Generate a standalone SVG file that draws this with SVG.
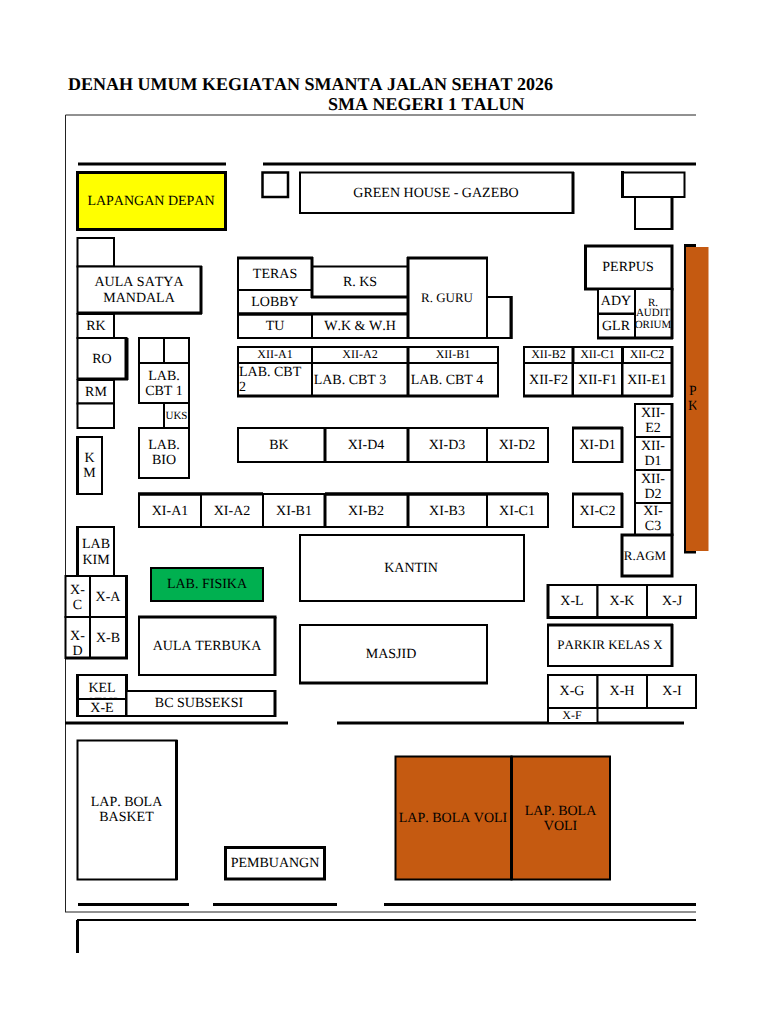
<svg xmlns="http://www.w3.org/2000/svg" width="768" height="1024" viewBox="0 0 768 1024">
<style>
rect{fill:#fff;stroke:#000;stroke-width:2}
rect.k{stroke-width:3}
rect.o{fill:#C55A11}
line{stroke:#000;stroke-width:3}
line.n{stroke-width:1;stroke:#222}
text{font-family:"Liberation Serif","Times New Roman",serif;font-size:14px;fill:#000;text-anchor:middle;text-rendering:geometricPrecision;font-kerning:none}
text.s{font-size:12px}
text.m{font-size:13px}
text.xs{font-size:11px}
text.l{text-anchor:start}
text.h{font-size:18px;font-weight:bold;text-anchor:start}
</style>
<defs><clipPath id="c"><rect x="0" y="0" width="696.5" height="1024"/></clipPath></defs>
<rect width="768" height="1024" style="fill:#fff;stroke:none"/>
<g id="title"><text class="h" x="68" y="90">DENAH UMUM KEGIATAN SMANTA JALAN SEHAT 2026</text><text class="h" x="328" y="110">SMA NEGERI 1 TALUN</text></g>
<g id="connectors">
<line class="n" x1="65.5" y1="115" x2="696" y2="115"/><line class="n" x1="65.5" y1="115" x2="65.5" y2="912"/><line class="n" x1="65" y1="912" x2="696" y2="912"/>
<line x1="78" y1="164" x2="226" y2="164"/><line x1="263" y1="164" x2="696" y2="164"/>
<line x1="65" y1="723" x2="288" y2="723"/><line x1="337" y1="723" x2="684" y2="723"/>
<line x1="78" y1="904.500" x2="189" y2="904.500"/><line x1="213" y1="904.500" x2="337" y2="904.500"/><line x1="384" y1="904.500" x2="696" y2="904.500"/>
<line style="stroke-width:2" x1="77" y1="920" x2="696" y2="920"/><line x1="77.500" y1="920" x2="77.500" y2="953"/>
</g>
<g id="lapangan-depan"><rect class="k" style="fill:#ff0" x="77.500" y="172.500" width="148" height="57"/><text x="151" y="205">LAPANGAN DEPAN</text></g>
<g id="kotak-1"><rect style="stroke-width:2.500" x="262.500" y="172.500" width="25.500" height="24.500"/></g>
<g id="green-house"><rect x="300" y="172.500" width="273" height="40.500"/><line x1="573" y1="172" x2="573" y2="214"/><text x="436" y="197">GREEN HOUSE - GAZEBO</text></g>
<g id="kotak-2"><rect x="622.500" y="172.500" width="62" height="24.500"/><rect x="635" y="197" width="37" height="32"/><line x1="622.500" y1="171" x2="622.500" y2="198"/><line x1="672" y1="197" x2="672" y2="230"/></g>
<g id="kotak-3"><rect x="77.500" y="238" width="36.500" height="28.500"/></g>
<g id="aula-satya"><rect x="77.500" y="266.500" width="123.500" height="47"/><line x1="77" y1="313" x2="202" y2="313"/><line x1="201" y1="266" x2="201" y2="314"/><text x="139" y="286">AULA SATYA</text><text x="139" y="302">MANDALA</text></g>
<g id="rk"><rect x="77.500" y="314" width="36.500" height="24"/><text x="96" y="330">RK</text></g>
<g id="ro"><rect x="77.500" y="338" width="49" height="41"/><line style="stroke-width:4" x1="126.500" y1="338" x2="126.500" y2="380"/><line x1="77" y1="379" x2="128" y2="379"/><text x="102" y="363">RO</text></g>
<g id="rm"><rect x="77.500" y="380" width="36.500" height="23.500"/><text x="96" y="396">RM</text></g>
<g id="kotak-4"><rect x="77.500" y="403.500" width="36.500" height="24.500"/></g>
<g id="km"><rect x="77.500" y="437" width="24.500" height="57"/><line x1="77.500" y1="436" x2="77.500" y2="495"/><text x="89.500" y="462">K</text><text x="89.500" y="477">M</text></g>
<g id="lab-kim"><rect x="77.500" y="527" width="36.500" height="49"/><line x1="77.500" y1="526" x2="77.500" y2="576"/><text x="96" y="548">LAB</text><text x="96" y="564">KIM</text></g>
<g id="x-c"><rect x="65.500" y="576" width="24.500" height="41"/><text x="77.500" y="594">X-</text><text x="77.500" y="609">C</text></g>
<g id="x-a"><rect x="90" y="576" width="37" height="41"/><line x1="126.500" y1="575" x2="126.500" y2="618"/><text x="108" y="601">X-A</text></g>
<g id="x-d"><rect x="65.500" y="617" width="24.500" height="41"/><text x="77.500" y="640">X-</text><text x="77.500" y="655">D</text></g>
<g id="x-b"><rect x="90" y="617" width="37" height="41"/><line x1="126.500" y1="617" x2="126.500" y2="659"/><line x1="65" y1="658" x2="128" y2="658"/><text x="108" y="642">X-B</text></g>
<g id="kel-seni"><rect x="77.500" y="675" width="49" height="24"/><text x="102" y="692">KEL</text><text x="102" y="707">SENI</text></g>
<g id="x-e"><rect x="77.500" y="699" width="49" height="17"/><line x1="77.500" y1="674" x2="77.500" y2="717"/><line x1="126.500" y1="674" x2="126.500" y2="717"/><text x="102" y="712">X-E</text></g>
<g id="bc-subseksi"><rect x="126.500" y="691" width="148.500" height="25"/><line x1="275" y1="690" x2="275" y2="717"/><text x="199" y="707">BC SUBSEKSI</text></g>
<g id="kotak-5"><rect x="139" y="338" width="25" height="25"/><rect x="164" y="338" width="25" height="25"/></g>
<g id="lab-cbt-1"><rect x="139" y="363" width="50" height="40"/><text x="164" y="380">LAB.</text><text x="164" y="395">CBT 1</text></g>
<g id="uks"><rect x="164" y="403" width="25" height="25"/><text class="xs" x="176.500" y="419">UKS</text></g>
<g id="lab-bio"><rect x="139" y="428" width="50" height="50"/><text x="164" y="449">LAB.</text><text x="164" y="464">BIO</text></g>
<g id="lobby"><rect x="238" y="290" width="170" height="24"/><text x="275" y="306">LOBBY</text></g>
<g id="r-ks"><rect x="312" y="266.500" width="96" height="30.500"/><line x1="311" y1="297" x2="409" y2="297"/><text x="360" y="286">R. KS</text></g>
<g id="teras"><rect x="238" y="258" width="74" height="32"/><line x1="312" y1="257" x2="312" y2="298"/><line x1="237" y1="258" x2="313" y2="258"/><text x="275" y="278">TERAS</text></g>
<g id="tu"><rect x="238" y="314" width="74" height="24"/><line x1="237" y1="314" x2="409" y2="314"/><text x="275" y="330">TU</text></g>
<g id="wk"><rect x="312" y="314" width="96" height="24"/><line x1="237" y1="314" x2="409" y2="314"/><text x="360" y="330">W.K &amp; W.H</text></g>
<g id="kotak-6"><rect x="487" y="297" width="24.500" height="41"/><line x1="511" y1="296" x2="511" y2="339"/></g>
<g id="r-guru"><rect x="408" y="258" width="79" height="80"/><line x1="408" y1="257" x2="408" y2="339"/><line x1="407" y1="258" x2="488" y2="258"/><text class="m" x="447" y="302">R. GURU</text></g>
<g id="xii-a1"><rect x="238" y="347" width="74" height="16"/><text class="s" x="275" y="358">XII-A1</text></g>
<g id="xii-a2"><rect x="312" y="347" width="96" height="16"/><text class="s" x="360" y="358">XII-A2</text></g>
<g id="xii-b1"><rect x="408" y="347" width="90" height="16"/><text class="s" x="453" y="358">XII-B1</text></g>
<g id="cbt-2"><rect x="238" y="363" width="74" height="33"/><text class="l" x="239" y="376">LAB. CBT</text><text class="l" x="239" y="391">2</text></g>
<g id="cbt-3"><rect x="312" y="363" width="96" height="33"/><text x="350" y="384">LAB. CBT 3</text></g>
<g id="cbt-4"><rect x="408" y="363" width="90" height="33"/><line x1="408" y1="346" x2="408" y2="397"/><line x1="237" y1="396" x2="499" y2="396"/><text x="447" y="384">LAB. CBT 4</text></g>
<g id="xii-b2"><rect x="524" y="347" width="49" height="16"/><text class="s" x="548.500" y="358">XII-B2</text></g>
<g id="xii-c1"><rect x="573" y="347" width="49.500" height="16"/><text class="s" x="597.500" y="358">XII-C1</text></g>
<g id="xii-c2"><rect x="622.500" y="347" width="49.500" height="16"/><text class="s" x="647" y="358">XII-C2</text></g>
<g id="xii-f2"><rect x="524" y="363" width="49" height="33"/><line x1="573" y1="346" x2="573" y2="397"/><text x="548.500" y="384">XII-F2</text></g>
<g id="xii-f1"><rect x="573" y="363" width="49.500" height="33"/><line x1="622.500" y1="346" x2="622.500" y2="397"/><text x="597.500" y="384">XII-F1</text></g>
<g id="xii-e1"><rect x="622.500" y="363" width="49.500" height="33"/><line x1="672" y1="346" x2="672" y2="397"/><line x1="523" y1="396" x2="673" y2="396"/><text x="647" y="384">XII-E1</text></g>
<g id="perpus"><rect class="k" x="585.500" y="246" width="86.500" height="43"/><text x="628" y="271">PERPUS</text></g>
<g id="ady"><rect x="598" y="289" width="37" height="25"/><line x1="597" y1="314" x2="636" y2="314"/><text x="616" y="305">ADY</text></g>
<g id="glr"><rect x="598" y="314" width="37" height="24"/><text x="616" y="330">GLR</text></g>
<g id="r-auditorium"><rect x="635" y="289" width="37" height="49"/><line x1="672" y1="288" x2="672" y2="339"/><line x1="597" y1="338" x2="673" y2="338"/><text class="xs" x="653" y="306">R.</text><text class="xs" x="653" y="316">AUDIT</text><text class="xs" x="653" y="328">ORIUM</text></g>
<g id="parkir-p"><line x1="684" y1="245.500" x2="696" y2="245.500"/><line x1="685.500" y1="245" x2="685.500" y2="553"/><line x1="684" y1="552" x2="696" y2="552"/><rect class="o" style="stroke:none" x="686" y="247" width="22.500" height="304"/><g clip-path="url(#c)"><text x="693" y="395">P</text><text x="693" y="410">K</text></g></g>
<g id="bk"><rect x="238" y="428" width="87" height="34"/><text x="279" y="449">BK</text></g>
<g id="xi-d4"><rect x="325" y="428" width="83" height="34"/><line x1="325" y1="427" x2="325" y2="463"/><text x="366" y="449">XI-D4</text></g>
<g id="xi-d3"><rect x="408" y="428" width="79" height="34"/><line x1="408" y1="427" x2="408" y2="463"/><text x="447" y="449">XI-D3</text></g>
<g id="xi-d2"><rect x="487" y="428" width="61" height="34"/><text x="517" y="449">XI-D2</text></g>
<g id="xi-d1"><rect x="573" y="428" width="49" height="34"/><line x1="622" y1="427" x2="622" y2="463"/><line x1="572" y1="428" x2="623" y2="428"/><text x="597.500" y="449">XI-D1</text></g>
<g id="xi-a1"><rect x="139" y="494" width="62" height="33"/><line x1="138" y1="494" x2="263" y2="494"/><text x="170" y="515">XI-A1</text></g>
<g id="xi-a2"><rect x="201" y="494" width="62" height="33"/><line x1="138" y1="494" x2="263" y2="494"/><text x="232" y="515">XI-A2</text></g>
<g id="xi-b1"><rect x="263" y="494" width="62" height="33"/><text x="294" y="515">XI-B1</text></g>
<g id="xi-b2"><rect x="325" y="494" width="83" height="33"/><line x1="325" y1="493" x2="325" y2="528"/><text x="366" y="515">XI-B2</text></g>
<g id="xi-b3"><rect x="408" y="494" width="79" height="33"/><line x1="408" y1="493" x2="408" y2="528"/><line x1="325" y1="494" x2="548" y2="494"/><text x="447" y="515">XI-B3</text></g>
<g id="xi-c1"><rect x="487" y="494" width="61" height="33"/><line x1="325" y1="494" x2="548" y2="494"/><text x="517" y="515">XI-C1</text></g>
<g id="xi-c2"><rect x="573" y="494" width="49" height="33"/><line x1="622" y1="493" x2="622" y2="528"/><line x1="572" y1="494" x2="623" y2="494"/><text x="597.500" y="515">XI-C2</text></g>
<g id="xii-e2"><rect x="635" y="404" width="37" height="33"/><text x="653" y="417">XII-</text><text x="653" y="432">E2</text></g>
<g id="xii-d1"><rect x="635" y="437" width="37" height="33"/><text x="653" y="450">XII-</text><text x="653" y="465">D1</text></g>
<g id="xii-d2"><rect x="635" y="470" width="37" height="33"/><text x="653" y="483">XII-</text><text x="653" y="498">D2</text></g>
<g id="xi-c3"><rect x="635" y="503" width="37" height="32"/><line x1="672" y1="403" x2="672" y2="536"/><text x="653" y="515">XI-</text><text x="653" y="530">C3</text></g>
<g id="r-agm"><rect class="k" x="622" y="535" width="50" height="41"/><text class="m" x="645" y="560">R.AGM</text></g>
<g id="kantin"><rect x="300" y="535" width="224" height="66"/><text x="411" y="572">KANTIN</text></g>
<g id="masjid"><rect x="300" y="625" width="187" height="58"/><line x1="299" y1="683" x2="488" y2="683"/><text x="391" y="658">MASJID</text></g>
<g id="lab-fisika"><rect style="fill:#00B050" x="151" y="568" width="112" height="33"/><text x="207" y="588">LAB. FISIKA</text></g>
<g id="aula-terbuka"><rect x="139" y="617" width="136" height="58"/><line x1="138" y1="617" x2="276.500" y2="617"/><line x1="275" y1="617" x2="275" y2="676"/><text x="207" y="650">AULA TERBUKA</text></g>
<g id="x-l"><rect x="548" y="585" width="49.500" height="33"/><line x1="548" y1="584" x2="548" y2="619"/><text x="572" y="605">X-L</text></g>
<g id="x-k"><rect x="597.500" y="585" width="49.500" height="33"/><text x="622" y="605">X-K</text></g>
<g id="x-j"><rect x="647" y="585" width="49" height="33"/><line x1="547" y1="617.500" x2="697" y2="617.500"/><text x="672" y="605">X-J</text></g>
<g id="parkir"><rect x="548" y="625" width="124" height="41"/><line x1="672" y1="624" x2="672" y2="667"/><line x1="547" y1="625" x2="673" y2="625"/><text class="m" x="610" y="649">PARKIR KELAS X</text></g>
<g id="x-g"><rect x="548" y="675" width="49.500" height="33"/><text x="572" y="695">X-G</text></g>
<g id="x-h"><rect x="597.500" y="675" width="49.500" height="33"/><text x="622" y="695">X-H</text></g>
<g id="x-i"><rect x="647" y="675" width="49" height="33"/><text x="672" y="695">X-I</text></g>
<g id="x-f"><rect x="548" y="708" width="49.500" height="15"/><text class="s" x="572" y="719">X-F</text></g>
<g id="basket"><rect x="77.500" y="740.500" width="99" height="139"/><line x1="176.500" y1="740" x2="176.500" y2="880"/><text x="126.500" y="806">LAP. BOLA</text><text x="126.500" y="821">BASKET</text></g>
<g id="pembuangan"><rect class="k" x="225.500" y="847.500" width="99" height="31.500"/><text x="275" y="867">PEMBUANGN</text></g>
<g id="voli-1"><rect class="o" x="395.500" y="756.500" width="116" height="123"/><text x="453" y="822">LAP. BOLA VOLI</text></g>
<g id="voli-2"><rect class="o" x="511.500" y="756.500" width="98.500" height="123"/><line x1="511.500" y1="756" x2="511.500" y2="880"/><text x="560.500" y="815">LAP. BOLA</text><text x="560.500" y="830">VOLI</text></g>
</svg>
